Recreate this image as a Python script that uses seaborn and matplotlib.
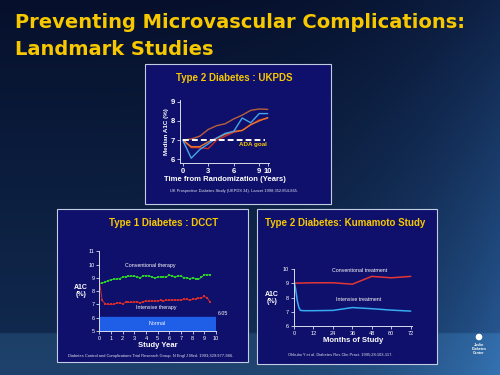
import numpy as np
import matplotlib
matplotlib.use("Agg")
import matplotlib.pyplot as plt
import seaborn as sns
from matplotlib.patches import Rectangle, Circle

# ---- data ----
# UKPDS: median A1C (%) by year from randomization
ukpds_years = [0, 1, 2, 3, 4, 5, 6, 7, 8, 9, 10]
ukpds_brown = [7.0, 7.05, 7.2, 7.55, 7.75, 7.85, 8.1, 8.3, 8.55, 8.62, 8.6]
ukpds_blue = [7.0, 6.05, 6.5, 6.8, 7.1, 7.35, 7.45, 8.15, 7.9, 8.38, 8.38]
ukpds_red = [7.0, 6.6, 6.6, 6.55, 7.0, 7.2, 7.4, 7.5, 7.8, 8.05, 8.13]
ukpds_orange = [7.0, 6.65, 6.65, 6.9, 7.1, 7.3, 7.45, 7.5, 7.8, 8.0, 8.17]
ukpds_xticks = [0, 3, 6, 9, 10]
ukpds_yticks = [6, 7, 8, 9]
ada_goal = 7.0
ada_span = [0, 9.7]

# DCCT: A1C (%) by study year (quarterly)
dcct_years = list(np.arange(0, 9.75, 0.25))
dcct_conventional = [8.6, 8.6, 8.7, 8.8, 8.85, 8.9, 8.9, 8.95, 9.05, 9.1, 9.12, 9.12, 9.12,
                     9.1, 9.0, 9.15, 9.17, 9.15, 9.08, 9.0, 9.05, 9.07, 9.07, 9.08, 9.2,
                     9.15, 9.05, 9.15, 9.12, 9.02, 9.0, 8.95, 9.0, 8.95, 8.88, 9.05, 9.22,
                     9.25, 9.2]
dcct_intensive = [8.8, 7.3, 7.05, 7.0, 7.0, 7.02, 7.1, 7.12, 7.05, 7.15, 7.15, 7.15, 7.18,
                  7.2, 7.12, 7.22, 7.25, 7.25, 7.25, 7.25, 7.27, 7.3, 7.25, 7.33, 7.3,
                  7.35, 7.3, 7.35, 7.3, 7.4, 7.38, 7.3, 7.4, 7.42, 7.45, 7.5, 7.6,
                  7.5, 7.15]
dcct_xticks = [0, 1, 2, 3, 4, 5, 6, 7, 8, 9, 10]
dcct_yticks = [5, 6, 7, 8, 9, 10, 11]
normal_low, normal_top = 5.0, 6.05

# Kumamoto: A1C (%) by month
kuma_conv_months = [0, 12, 24, 36, 48, 60, 72]
kuma_conventional = [9.02, 9.05, 9.05, 8.95, 9.5, 9.4, 9.5]
kuma_int_months = [0, 1, 2, 3, 4, 6, 12, 24, 30, 36, 48, 60, 72]
kuma_intensive = [9.25, 8.6, 7.8, 7.3, 7.1, 7.08, 7.08, 7.1, 7.2, 7.3, 7.22, 7.12, 7.05]
kuma_xticks = [0, 12, 24, 36, 48, 60, 72]
kuma_yticks = [6, 7, 8, 9, 10]

sns.set_theme(style="white")
plt.rcParams["font.family"] = ["Liberation Sans", "DejaVu Sans"]

W, H = 500, 375
fig = plt.figure(figsize=(5, 3.75), dpi=100)


def px_rect(x0, y0, x1, y1):
    return [x0 / W, 1 - y1 / H, (x1 - x0) / W, (y1 - y0) / H]


# background gradient
bg = fig.add_axes([0, 0, 1, 1])
yy, xx = np.mgrid[0:1:188j, 0:1:250j]
glow = xx ** 4 * (0.4 + 0.6 * yy)
r = 6 + 12 * yy + 22 * glow
g = 16 + 28 * yy + 48 * glow
b = 44 + 38 * yy + 70 * glow
low = yy > 333 / 375
r[low] += 12
g[low] += 22
b[low] += 26
img = np.dstack([r, g, b]) / 255
bg.imshow(np.clip(img, 0, 1), extent=(0, W, H, 0), aspect="auto", interpolation="bilinear")
bg.set_xlim(0, W)
bg.set_ylim(H, 0)
bg.axis("off")

yellow = "#f7c800"
panel_fc = "#0f106b"
panel_ec = "#c4cce4"
for (x0, y0, x1, y1) in [(145, 64, 331, 204), (57, 209, 248, 362), (257, 209, 437, 364)]:
    bg.add_patch(Rectangle((x0, y0), x1 - x0, y1 - y0, facecolor=panel_fc,
                           edgecolor=panel_ec, linewidth=0.8))

bg.text(15, 27.5, "Preventing Microvascular Complications:", color=yellow, fontsize=14,
        fontweight="bold", family=["DejaVu Sans"], va="baseline")
bg.text(15, 55, "Landmark Studies", color=yellow, fontsize=14,
        fontweight="bold", family=["DejaVu Sans"], va="baseline")

bg.text(234, 78, "Type 2 Diabetes : UKPDS", color=yellow, fontsize=7, fontweight="bold",
        ha="center", va="center")
bg.text(164, 223, "Type 1 Diabetes : DCCT", color=yellow, fontsize=7, fontweight="bold",
        ha="center", va="center")
bg.text(345, 223, "Type 2 Diabetes: Kumamoto Study", color=yellow, fontsize=7,
        fontweight="bold", ha="center", va="center")

cite_kw = dict(color="#e0e0f0", fontsize=2.9, ha="center", va="center")
bg.text(234, 191, "UK Prospective Diabetes Study (UKPDS 34). Lancet 1998;352:854-865.", **cite_kw)
bg.text(151, 356, "Diabetes Control and Complications Trial Research Group. N Engl J Med. 1993;329:977-986.", **cite_kw)
bg.text(340, 355, "Ohkubo Y et al. Diabetes Res Clin Pract. 1995;28:103-117.", **cite_kw)

# Joslin logo
bg.add_patch(Circle((479, 337), 2.6, color="white"))
bg.text(479, 349, "Joslin\nDiabetes\nCenter", color="white", fontsize=2.6, ha="center",
        va="center", fontweight="bold", linespacing=1.0)


def style(ax, fs, bold=False):
    ax.set_facecolor("none")
    ax.grid(False)
    for s in ["top", "right"]:
        ax.spines[s].set_visible(False)
    for s in ["left", "bottom"]:
        ax.spines[s].set_color("#d8dcea")
        ax.spines[s].set_linewidth(0.7)
    ax.tick_params(colors="#d8dcea", labelcolor="white", labelsize=fs, length=2,
                   width=0.6, pad=1.5, direction="out", left=True, bottom=True)
    if bold:
        for lab in ax.get_xticklabels() + ax.get_yticklabels():
            lab.set_fontweight("bold")


# ---- UKPDS ----
ax1 = fig.add_axes(px_rect(180, 99.8, 269.4, 163))
for vals, col in [(ukpds_brown, "#b8603c"), (ukpds_red, "#c42a2a"),
                  (ukpds_orange, "#e8782c"), (ukpds_blue, "#44a4ec")]:
    sns.lineplot(x=ukpds_years, y=vals, ax=ax1, color=col, linewidth=1.0)
ax1.plot(ada_span, [ada_goal, ada_goal], color="white", linewidth=1.4, dashes=(3, 1.6))
ax1.text(8.3, 6.78, "ADA goal", color=yellow, fontsize=4.5, fontweight="bold",
         ha="center", va="center")
ax1.set_xlim(-0.32, 10.2)
ax1.set_ylim(5.8, 9.1)
ax1.set_xticks(ukpds_xticks)
ax1.set_yticks(ukpds_yticks)
style(ax1, 5.5, bold=True)
ax1.set_xlabel("Time from Randomization (Years)", color="white", fontsize=5.5,
               fontweight="bold", labelpad=0.5)
ax1.set_ylabel("Median A1C (%)", color="white", fontsize=4.5, fontweight="bold",
               labelpad=1.5)

# ---- DCCT ----
ax2 = fig.add_axes(px_rect(99.3, 251.3, 216, 331))
ax2.axhspan(normal_low, normal_top, color="#1f5ee6", zorder=0)
sns.lineplot(x=dcct_years, y=dcct_conventional, ax=ax2, color="#2ccc2c", linewidth=0.7,
             marker="s", markersize=1.8, markeredgewidth=0)
sns.lineplot(x=dcct_years, y=dcct_intensive, ax=ax2, color="#d22c2c", linewidth=0.7,
             marker="s", markersize=1.6, markeredgewidth=0)
ax2.text(4.4, 9.9, "Conventional therapy", color="white", fontsize=3.8, ha="center", va="center")
ax2.text(4.85, 6.8, "Intensive therapy", color="white", fontsize=3.8, ha="center", va="center")
ax2.text(5.0, 5.55, "Normal", color="white", fontsize=3.8, ha="center", va="center")
ax2.text(10.15, 6.3, "6.05", color="white", fontsize=3.8, ha="left", va="center")
ax2.set_xlim(0, 10)
ax2.set_ylim(5, 11)
ax2.set_xticks(dcct_xticks)
ax2.set_yticks(dcct_yticks)
style(ax2, 4)
ax2.set_xlabel("Study Year", color="white", fontsize=5.5, fontweight="bold", labelpad=1)
ax2.set_ylabel("A1C\n(%)", color="white", fontsize=5, fontweight="bold", rotation=0,
               labelpad=5, va="center", linespacing=1.0)

# ---- Kumamoto ----
ax3 = fig.add_axes(px_rect(294, 269.3, 411.5, 326))
sns.lineplot(x=kuma_conv_months, y=kuma_conventional, ax=ax3, color="#e23636", linewidth=1.1)
sns.lineplot(x=kuma_int_months, y=kuma_intensive, ax=ax3, color="#36aaf2", linewidth=1.1)
ax3.text(40.6, 9.9, "Conventional treatment", color="white", fontsize=3.8, ha="center", va="center")
ax3.text(40, 7.9, "Intensive treatment", color="white", fontsize=3.8, ha="center", va="center")
ax3.set_xlim(0, 72.5)
ax3.set_ylim(6, 10)
ax3.set_xticks(kuma_xticks)
ax3.set_yticks(kuma_yticks)
style(ax3, 4)
ax3.set_xlabel("Months of Study", color="white", fontsize=5.5, fontweight="bold", labelpad=1)
ax3.set_ylabel("A1C\n(%)", color="white", fontsize=5, fontweight="bold", rotation=0,
               labelpad=8, va="center", linespacing=1.0)

fig.savefig("out.png", dpi=100)
